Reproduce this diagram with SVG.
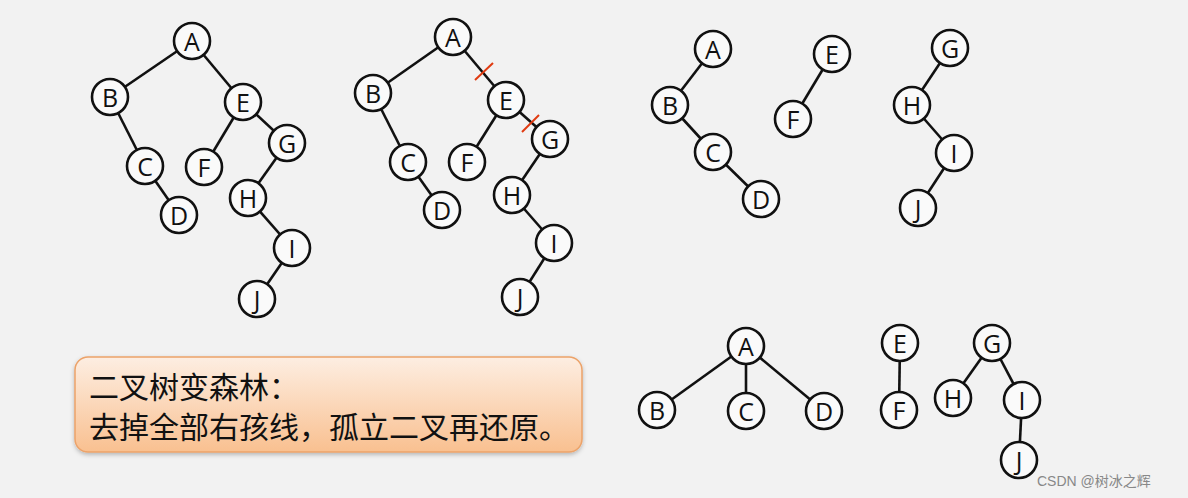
<svg xmlns="http://www.w3.org/2000/svg" width="1188" height="498" viewBox="0 0 1188 498">
<defs>
<style>
.n circle{fill:#fafafa;stroke:#111;stroke-width:2.6}
.n text{font-family:"Open Sans","Liberation Sans",sans-serif;font-size:25px;fill:#111;text-anchor:middle;dominant-baseline:central}
.e line{stroke:#111;stroke-width:2.6}
.x line{stroke:#e03a10;stroke-width:2}
.t{font-family:"Noto Sans CJK SC",sans-serif;font-size:30px;font-weight:400;fill:#111}
</style>
<linearGradient id="g" x1="0" y1="0" x2="0" y2="1">
<stop offset="0" stop-color="#fdeee2"/>
<stop offset="1" stop-color="#f9c090"/>
</linearGradient>
<filter id="sh" x="-5%" y="-10%" width="110%" height="130%">
<feDropShadow dx="0" dy="2" stdDeviation="2" flood-color="#000" flood-opacity="0.25"/>
</filter>
</defs>
<rect width="1188" height="498" fill="#f2f2f2"/>
<g id="connectors" class="e">
<!-- tree 1 -->
<line x1="192" y1="41" x2="110" y2="97"/>
<line x1="192" y1="41" x2="243" y2="102"/>
<line x1="110" y1="97" x2="145" y2="166"/>
<line x1="145" y1="166" x2="179" y2="215"/>
<line x1="243" y1="102" x2="204" y2="167"/>
<line x1="243" y1="102" x2="287" y2="143"/>
<line x1="287" y1="143" x2="248" y2="198"/>
<line x1="248" y1="198" x2="292" y2="248"/>
<line x1="292" y1="248" x2="257" y2="299"/>
<!-- tree 2 -->
<line x1="453" y1="37" x2="373" y2="93"/>
<line x1="453" y1="37" x2="506" y2="100"/>
<line x1="373" y1="93" x2="408" y2="162"/>
<line x1="408" y1="162" x2="442" y2="210"/>
<line x1="506" y1="100" x2="467" y2="162"/>
<line x1="506" y1="100" x2="550" y2="139"/>
<line x1="550" y1="139" x2="512" y2="195"/>
<line x1="512" y1="195" x2="554" y2="243"/>
<line x1="554" y1="243" x2="520" y2="297"/>
<!-- tree 3 -->
<line x1="713" y1="49" x2="670" y2="105"/>
<line x1="670" y1="105" x2="713" y2="152"/>
<line x1="713" y1="152" x2="761" y2="199"/>
<line x1="832" y1="54" x2="793" y2="119"/>
<line x1="950" y1="48" x2="912" y2="105"/>
<line x1="912" y1="105" x2="954" y2="153"/>
<line x1="954" y1="153" x2="918" y2="208"/>
<!-- tree 4 -->
<line x1="746" y1="346" x2="657" y2="410"/>
<line x1="746" y1="346" x2="746" y2="411"/>
<line x1="746" y1="346" x2="824" y2="411"/>
<line x1="900" y1="343" x2="899" y2="410"/>
<line x1="992" y1="343" x2="953" y2="398"/>
<line x1="992" y1="343" x2="1022" y2="400"/>
<line x1="1022" y1="400" x2="1019" y2="460"/>
</g>
<g id="cuts" class="x">
<line x1="475" y1="80" x2="493" y2="63"/>
<line x1="522" y1="132" x2="539" y2="115"/>
</g>
<g id="t1">
<g id="t1A" class="n"><circle cx="192" cy="41" r="18"/><text x="192" y="41">A</text></g>
<g id="t1B" class="n"><circle cx="110" cy="97" r="18"/><text x="110" y="97">B</text></g>
<g id="t1E" class="n"><circle cx="243" cy="102" r="18"/><text x="243" y="102">E</text></g>
<g id="t1G" class="n"><circle cx="287" cy="143" r="18"/><text x="287" y="143">G</text></g>
<g id="t1C" class="n"><circle cx="145" cy="166" r="18"/><text x="145" y="166">C</text></g>
<g id="t1F" class="n"><circle cx="204" cy="167" r="18"/><text x="204" y="167">F</text></g>
<g id="t1D" class="n"><circle cx="179" cy="215" r="18"/><text x="179" y="215">D</text></g>
<g id="t1H" class="n"><circle cx="248" cy="198" r="18"/><text x="248" y="198">H</text></g>
<g id="t1I" class="n"><circle cx="292" cy="248" r="18"/><text x="292" y="248">I</text></g>
<g id="t1J" class="n"><circle cx="257" cy="299" r="18"/><text x="257" y="299">J</text></g>
</g>
<g id="t2">
<g id="t2A" class="n"><circle cx="453" cy="37" r="18"/><text x="453" y="37">A</text></g>
<g id="t2B" class="n"><circle cx="373" cy="93" r="18"/><text x="373" y="93">B</text></g>
<g id="t2E" class="n"><circle cx="506" cy="100" r="18"/><text x="506" y="100">E</text></g>
<g id="t2G" class="n"><circle cx="550" cy="139" r="18"/><text x="550" y="139">G</text></g>
<g id="t2C" class="n"><circle cx="408" cy="162" r="18"/><text x="408" y="162">C</text></g>
<g id="t2F" class="n"><circle cx="467" cy="162" r="18"/><text x="467" y="162">F</text></g>
<g id="t2D" class="n"><circle cx="442" cy="210" r="18"/><text x="442" y="210">D</text></g>
<g id="t2H" class="n"><circle cx="512" cy="195" r="18"/><text x="512" y="195">H</text></g>
<g id="t2I" class="n"><circle cx="554" cy="243" r="18"/><text x="554" y="243">I</text></g>
<g id="t2J" class="n"><circle cx="520" cy="297" r="18"/><text x="520" y="297">J</text></g>
</g>
<g id="t3">
<g id="t3A" class="n"><circle cx="713" cy="49" r="18"/><text x="713" y="49">A</text></g>
<g id="t3B" class="n"><circle cx="670" cy="105" r="18"/><text x="670" y="105">B</text></g>
<g id="t3C" class="n"><circle cx="713" cy="152" r="18"/><text x="713" y="152">C</text></g>
<g id="t3D" class="n"><circle cx="761" cy="199" r="18"/><text x="761" y="199">D</text></g>
<g id="t3E" class="n"><circle cx="832" cy="54" r="18"/><text x="832" y="54">E</text></g>
<g id="t3F" class="n"><circle cx="793" cy="119" r="18"/><text x="793" y="119">F</text></g>
<g id="t3G" class="n"><circle cx="950" cy="48" r="18"/><text x="950" y="48">G</text></g>
<g id="t3H" class="n"><circle cx="912" cy="105" r="18"/><text x="912" y="105">H</text></g>
<g id="t3I" class="n"><circle cx="954" cy="153" r="18"/><text x="954" y="153">I</text></g>
<g id="t3J" class="n"><circle cx="918" cy="208" r="18"/><text x="918" y="208">J</text></g>
</g>
<g id="t4">
<g id="t4A" class="n"><circle cx="746" cy="346" r="18"/><text x="746" y="346">A</text></g>
<g id="t4B" class="n"><circle cx="657" cy="410" r="18"/><text x="657" y="410">B</text></g>
<g id="t4C" class="n"><circle cx="746" cy="411" r="18"/><text x="746" y="411">C</text></g>
<g id="t4D" class="n"><circle cx="824" cy="411" r="18"/><text x="824" y="411">D</text></g>
<g id="t4E" class="n"><circle cx="900" cy="343" r="18"/><text x="900" y="343">E</text></g>
<g id="t4F" class="n"><circle cx="899" cy="410" r="18"/><text x="899" y="410">F</text></g>
<g id="t4G" class="n"><circle cx="992" cy="343" r="18"/><text x="992" y="343">G</text></g>
<g id="t4H" class="n"><circle cx="953" cy="398" r="18"/><text x="953" y="398">H</text></g>
<g id="t4I" class="n"><circle cx="1022" cy="400" r="18"/><text x="1022" y="400">I</text></g>
<g id="t4J" class="n"><circle cx="1019" cy="460" r="18"/><text x="1019" y="460">J</text></g>
</g>
<g id="note">
<rect x="75" y="357" width="507" height="95" rx="13" fill="url(#g)" stroke="#eca36a" stroke-width="1.5" filter="url(#sh)"/>
<text class="t" x="89" y="398">二叉树变森林：</text>
<text class="t" x="89" y="438">去掉全部右孩线，孤立二叉再还原。</text>
</g>
<text x="1037" y="486" font-family="'Liberation Sans','Noto Sans CJK SC',sans-serif" font-size="14" fill="#888">CSDN @树冰之辉</text>
</svg>
